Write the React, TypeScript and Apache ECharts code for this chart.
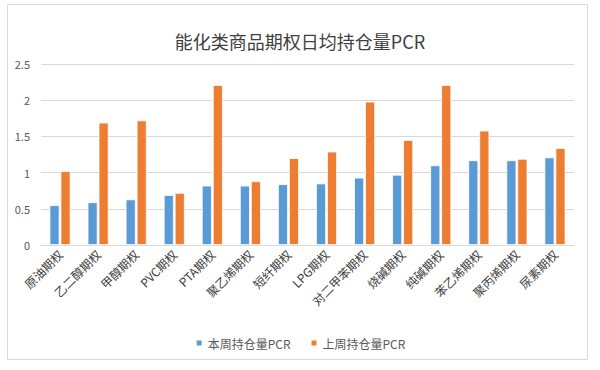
import React, { useEffect, useRef } from "react";
import * as echarts from "echarts";

const categories = ["原油期权", "乙二醇期权", "甲醇期权", "PVC期权", "PTA期权", "聚乙烯期权", "短纤期权", "LPG期权", "对二甲苯期权", "烧碱期权", "纯碱期权", "苯乙烯期权", "聚丙烯期权", "尿素期权"];
const thisWeek = [0.55, 0.59, 0.63, 0.69, 0.82, 0.82, 0.84, 0.85, 0.93, 0.97, 1.1, 1.17, 1.17, 1.21];
const lastWeek = [1.02, 1.69, 1.72, 0.72, 2.21, 0.88, 1.2, 1.29, 1.98, 1.45, 2.21, 1.58, 1.19, 1.34];
const seriesNames = ["本周持仓量PCR", "上周持仓量PCR"];
const yTicks = [0, 0.5, 1, 1.5, 2, 2.5];

const FONT = "'Noto Sans CJK SC', 'Noto Sans', sans-serif";

export default function App() {
  const ref = useRef<HTMLDivElement>(null);
  useEffect(() => {
    if (!ref.current) return;
    const chart = echarts.init(ref.current, undefined, { renderer: "svg" });
    chart.setOption({
      animation: false,
      backgroundColor: "#ffffff",
      title: {
        text: "能化类商品期权日均持仓量PCR",
        left: "center",
        top: 27,
        textStyle: { fontFamily: FONT, fontSize: 18, fontWeight: "normal", color: "#404040" },
      },
      graphic: [
        {
          type: "rect",
          shape: { x: 7.5, y: 4.5, width: 580, height: 355 },
          style: { fill: "none", stroke: "#d9d9d9", lineWidth: 1 },
          silent: true,
        },
      ],
      legend: {
        data: seriesNames,
        left: "center",
        top: 332,
        itemWidth: 7,
        itemHeight: 7,
        itemGap: 19,
        icon: "rect",
        textStyle: { fontFamily: FONT, fontSize: 12, color: "#595959" },
      },
      grid: { left: 41, right: 26, top: 64, bottom: 125, containLabel: false },
      xAxis: {
        type: "category",
        data: categories,
        axisLine: { lineStyle: { color: "#d9d9d9" } },
        axisTick: { show: false },
        axisLabel: { rotate: 45, margin: 7, fontFamily: FONT, fontSize: 12, fontWeight: "normal", color: "#404040", interval: 0 },
      },
      yAxis: {
        type: "value",
        min: yTicks[0],
        max: yTicks[yTicks.length - 1],
        interval: 0.5,
        axisLine: { show: false },
        axisTick: { show: false },
        splitLine: { lineStyle: { color: "#d9d9d9" } },
        axisLabel: { margin: 11, fontFamily: FONT, fontSize: 11, color: "#595959" },
      },
      series: [
        {
          name: seriesNames[0],
          type: "bar",
          data: thisWeek,
          barWidth: 10,
          barGap: "10%",
          itemStyle: { color: "#5B9BD5", borderColor: "#ffffff", borderWidth: 0.8 },
        },
        {
          name: seriesNames[1],
          type: "bar",
          data: lastWeek,
          barWidth: 10,
          itemStyle: { color: "#ED7D31", borderColor: "#ffffff", borderWidth: 0.8 },
        },
      ],
    });
    return () => chart.dispose();
  }, []);
  return (
    <div
      ref={ref}
      style={{ position: "absolute", left: 0, top: 0, width: 600, height: 370 }}
    />
  );
}
